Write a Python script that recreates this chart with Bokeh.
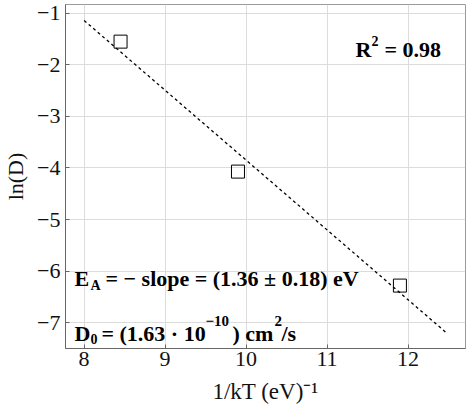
from bokeh.plotting import figure
from bokeh.models import Label, LinearAxis, Range1d, FixedTicker
from bokeh.embed import file_html
from bokeh.resources import INLINE

# data
x_pts = [8.45, 9.9, 11.9]
y_pts = [-1.55, -4.07, -6.28]
fit_x = [8.0, 12.47]
fit_y = [-1.14, -7.19]
x_ticks = [8, 9, 10, 11, 12]
y_ticks = [-1, -2, -3, -4, -5, -6, -7]

SERIF = "Liberation Serif"
W, H = 466, 410
FL, FR, FT, FB = 50, 1, 4, 62
FH = H - FT - FB

p = figure(width=W, height=H, output_backend="svg", toolbar_location=None,
           x_range=Range1d(7.77, 12.71), y_range=Range1d(-7.5, -0.83),
           min_border_left=FL, min_border_right=FR, min_border_top=FT,
           min_border_bottom=FB, x_axis_location=None, y_axis_location=None)
p.background_fill_color = "white"
p.border_fill_color = "white"
p.outline_line_color = "#9a9a9a"
p.outline_line_width = 1

minus = lambda v: ("\u2212" + str(abs(v))) if v < 0 else str(v)

xa = LinearAxis(ticker=FixedTicker(ticks=x_ticks))
ya = LinearAxis(ticker=FixedTicker(ticks=y_ticks))
xa.major_label_overrides = {v: minus(v) for v in x_ticks}
ya.major_label_overrides = {v: minus(v) for v in y_ticks}
for ax in (xa, ya):
    ax.major_label_text_font = SERIF
    ax.major_label_text_font_size = "22px"
    ax.major_label_text_color = "#111111"
    ax.major_tick_in = 4
    ax.major_tick_out = 0
    ax.minor_tick_line_color = None
    ax.axis_line_color = "#666666"
    ax.major_tick_line_color = "#666666"
    ax.axis_label_text_font = SERIF
    ax.axis_label_text_font_style = "normal"
    ax.axis_label_text_color = "#111111"
xa.major_label_standoff = 3
ya.major_label_standoff = 5
ya.axis_label = "ln(D)"
ya.axis_label_text_font_size = "22px"
ya.axis_label_standoff = 6
xa.axis_label = "1/kT (eV)\u207b\u00b9"
xa.axis_label_text_font_size = "23px"
xa.axis_label_standoff = 10
p.add_layout(xa, "below")
p.add_layout(ya, "left")

p.xgrid.ticker = FixedTicker(ticks=x_ticks)
p.ygrid.ticker = FixedTicker(ticks=y_ticks)
p.grid.grid_line_color = "#dcdcdc"
p.grid.grid_line_width = 1

p.line(fit_x, fit_y, line_color="black", line_width=1.3, line_dash="3 3")
p.scatter(x_pts, y_pts, marker="square", size=13, fill_color=None,
          line_color="black", line_width=1)

def lab(x, y, t, size="22px"):
    p.add_layout(Label(x=x, y=y, x_units="screen", y_units="screen", text=t,
                       text_font=SERIF, text_font_size=size,
                       text_font_style="bold",
                       text_color="black", text_baseline="alphabetic"))

SUB = "14px"
SUP = "15px"
# R^2
lab(290, FH - 45, "R")
lab(306, FH - 36, "2", SUB)
lab(319, FH - 45, "= 0.98")
# E_A
lab(9, 70, "E")
lab(25, 63, "A", SUB)
lab(40, 70, "= \u2212 slope = (1.36 \u00b1 0.18) eV")
# D_0
lab(9, 15, "D")
lab(25, 10, "0", SUB)
lab(36, 15, "= (1.63 \u00b7 10")
lab(140, 28, "\u221210", SUP)
lab(167, 15, ") cm")
lab(209, 28, "2", SUP)
lab(216, 15, "/s")

open("out.html", "w").write(file_html(p, INLINE))
